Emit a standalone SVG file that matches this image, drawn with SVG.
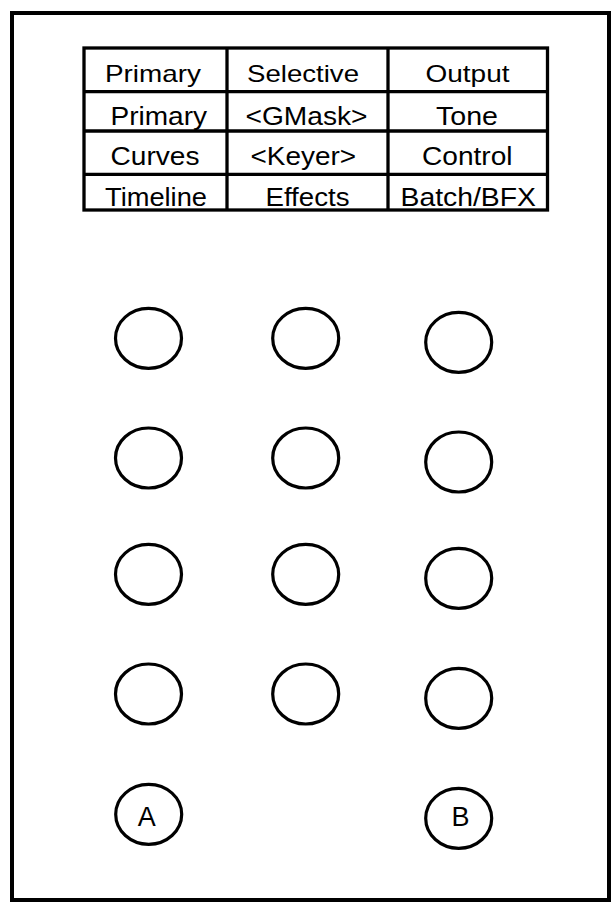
<svg xmlns="http://www.w3.org/2000/svg" width="614" height="906" viewBox="0 0 614 906">
<style>
.frame{fill:#fff;stroke:#000;stroke-width:4}
.grid{fill:none;stroke:#000;stroke-width:3.3}
.btn{fill:#fff;stroke:#000;stroke-width:3.2}
text{font-family:"Liberation Sans",Arial,sans-serif;fill:#000}
.r1{font-size:24px}
.r2{font-size:25px}
.r3{font-size:25px}
.lbl{font-size:27px;text-anchor:middle}
</style>
<rect x="0" y="0" width="614" height="906" fill="#fff"/>
<g id="panel">
<rect class="frame" x="12" y="13" width="597" height="887"/>
</g>
<g id="menu">
<rect class="grid" x="84" y="48" width="463.5" height="162"/>
<line class="grid" x1="227" y1="48" x2="227" y2="210"/>
<line class="grid" x1="388" y1="48" x2="388" y2="210"/>
<line class="grid" x1="84" y1="91.7" x2="547.5" y2="91.7"/>
<line class="grid" x1="84" y1="131" x2="547.5" y2="131"/>
<line class="grid" x1="84" y1="174.3" x2="547.5" y2="174.3"/>
<text class="r1" x="105" y="82" textLength="96" lengthAdjust="spacingAndGlyphs">Primary</text>
<text class="r1" x="247" y="82" textLength="112" lengthAdjust="spacingAndGlyphs">Selective</text>
<text class="r1" x="425.5" y="82" textLength="84" lengthAdjust="spacingAndGlyphs">Output</text>
<text class="r2" x="110.5" y="125" textLength="96.5" lengthAdjust="spacingAndGlyphs">Primary</text>
<text class="r2" x="245.5" y="125" textLength="122" lengthAdjust="spacingAndGlyphs">&lt;GMask&gt;</text>
<text class="r2" x="436" y="125" textLength="62" lengthAdjust="spacingAndGlyphs">Tone</text>
<text class="r3" x="110.5" y="165" textLength="89" lengthAdjust="spacingAndGlyphs">Curves</text>
<text class="r3" x="250.5" y="165" textLength="105.5" lengthAdjust="spacingAndGlyphs">&lt;Keyer&gt;</text>
<text class="r3" x="422" y="165" textLength="90.5" lengthAdjust="spacingAndGlyphs">Control</text>
<text class="r3" x="105" y="205.5" textLength="102" lengthAdjust="spacingAndGlyphs">Timeline</text>
<text class="r3" x="265.5" y="205.5" textLength="84" lengthAdjust="spacingAndGlyphs">Effects</text>
<text class="r3" x="400.5" y="205.5" textLength="135.5" lengthAdjust="spacingAndGlyphs">Batch/BFX</text>
</g>
<g id="btn-r1c1"><ellipse class="btn" cx="148.5" cy="338.3" rx="33" ry="30"/></g>
<g id="btn-r1c2"><ellipse class="btn" cx="305.7" cy="338.3" rx="33" ry="30"/></g>
<g id="btn-r1c3"><ellipse class="btn" cx="458.7" cy="342.3" rx="33" ry="30"/></g>
<g id="btn-r2c1"><ellipse class="btn" cx="148.5" cy="458" rx="33" ry="30"/></g>
<g id="btn-r2c2"><ellipse class="btn" cx="305.7" cy="458" rx="33" ry="30"/></g>
<g id="btn-r2c3"><ellipse class="btn" cx="458.7" cy="462" rx="33" ry="30"/></g>
<g id="btn-r3c1"><ellipse class="btn" cx="148.5" cy="574.3" rx="33" ry="30"/></g>
<g id="btn-r3c2"><ellipse class="btn" cx="305.7" cy="574.3" rx="33" ry="30"/></g>
<g id="btn-r3c3"><ellipse class="btn" cx="458.7" cy="578.3" rx="33" ry="30"/></g>
<g id="btn-r4c1"><ellipse class="btn" cx="148.5" cy="694" rx="33" ry="30"/></g>
<g id="btn-r4c2"><ellipse class="btn" cx="305.7" cy="694" rx="33" ry="30"/></g>
<g id="btn-r4c3"><ellipse class="btn" cx="458.7" cy="698.3" rx="33" ry="30"/></g>
<g id="btn-A"><ellipse class="btn" cx="148.7" cy="814.3" rx="33" ry="30"/><text class="lbl" x="146.7" y="825.5">A</text></g>
<g id="btn-B"><ellipse class="btn" cx="458.7" cy="818.3" rx="33" ry="30"/><text class="lbl" x="460.5" y="825.5">B</text></g>
<g id="connectors"/>
</svg>
